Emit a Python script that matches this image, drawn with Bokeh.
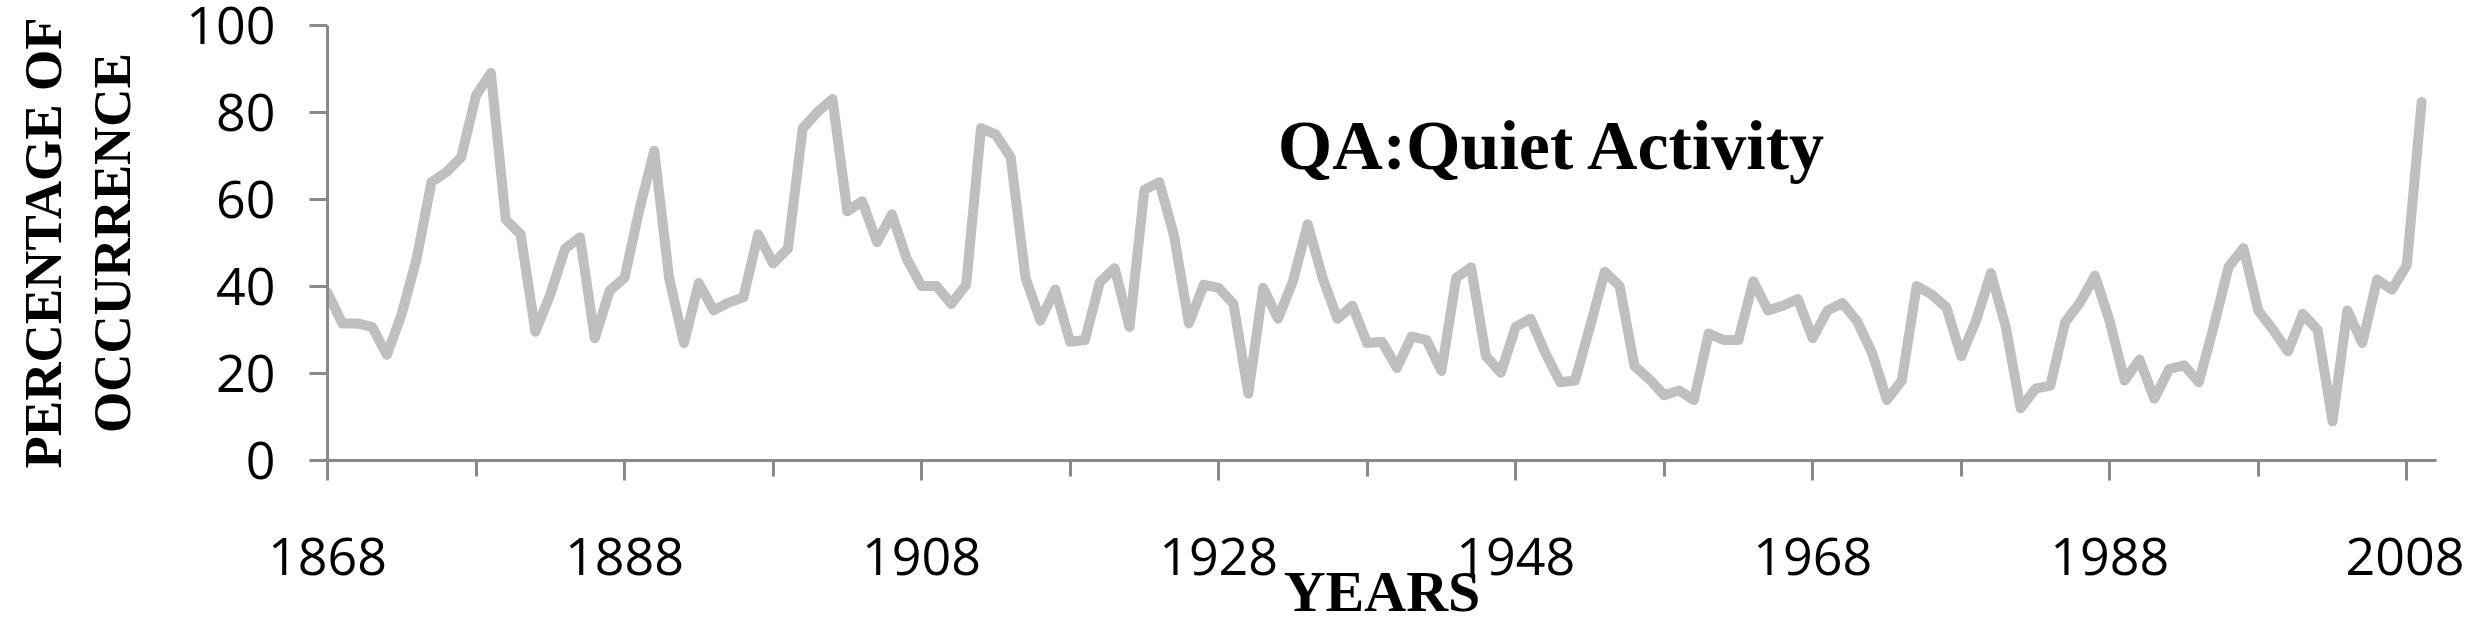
from bokeh.plotting import figure
from bokeh.models import FixedTicker, Label, Range1d
from bokeh.embed import file_html
from bokeh.resources import INLINE

# ---- data ----
start_year = 1868
qa_values = [
    38.6, 31.5, 31.5, 30.7, 24.3, 33.7, 46.4, 64.0, 66.3, 69.7,
    83.9, 89.1, 55.4, 52.0, 29.6, 38.2, 48.7, 51.3, 28.1, 39.0,
    42.0, 57.7, 71.2, 42.0, 27.0, 40.8, 34.5, 36.3, 37.5, 52.0,
    45.3, 48.7, 76.4, 80.1, 83.1, 57.3, 59.6, 50.2, 56.6, 46.4,
    40.1, 40.1, 36.0, 40.4, 76.4, 74.9, 69.7, 42.0, 32.2, 39.3,
    27.3, 27.7, 41.0, 44.2, 30.7, 62.2, 64.0, 51.7, 31.5, 40.4,
    39.7, 36.0, 15.4, 39.7, 32.6, 41.2, 54.3, 42.0, 32.6, 35.6,
    27.0, 27.3, 21.3, 28.5, 27.7, 20.6, 42.0, 44.4, 24.0, 20.2,
    30.7, 32.6, 24.7, 18.0, 18.4, 30.7, 43.4, 40.1, 21.7, 18.7,
    15.0, 16.1, 13.9, 29.2, 27.7, 27.7, 41.2, 34.5, 35.6, 37.1,
    28.1, 34.5, 36.2, 32.0, 24.7, 13.9, 18.4, 40.1, 38.2, 35.2,
    24.0, 32.2, 43.1, 30.7, 12.0, 16.5, 17.2, 31.8, 36.3, 42.5,
    32.0, 18.4, 23.2, 14.2, 21.0, 21.9, 18.0, 30.8, 44.5, 48.8,
    34.5, 30.0, 25.1, 33.7, 30.0, 9.0, 34.5, 27.0, 41.6, 39.3,
    44.9, 82.4,
]
years = [start_year + i for i in range(len(qa_values))]

x_major_ticks = [1868, 1888, 1908, 1928, 1948, 1968, 1988, 2008]
x_minor_ticks = [1878, 1898, 1918, 1938, 1958, 1978, 1998]
x_tick_labels = ["1868", "1888", "1908", "1928", "1948", "1968", "1988", "2008"]
y_ticks = [0, 20, 40, 60, 80, 100]
y_tick_labels = ["0", "20", "40", "60", "80", "100"]

title_text = "QA:Quiet Activity"
x_title = "YEARS"
y_title = "PERCENTAGE OF\nOCCURRENCE"

AXIS_COLOR = "#898989"
LINE_COLOR = "#BFBFBF"

p = figure(
    width=2464, height=626,
    output_backend="svg", toolbar_location=None,
    x_range=Range1d(1868, 2010), y_range=Range1d(0, 100),
    min_border_left=327, min_border_right=28,
    min_border_top=25, min_border_bottom=156,
)
p.outline_line_color = None
p.grid.visible = False
p.background_fill_color = "white"
p.border_fill_color = "white"

p.line(years, qa_values, line_color=LINE_COLOR, line_width=10,
       line_join="round", line_cap="round")

# x axis
xa = p.xaxis[0]
xa.ticker = FixedTicker(ticks=x_major_ticks, minor_ticks=x_minor_ticks)
xa.major_label_overrides = {t: l for t, l in zip(x_major_ticks, x_tick_labels)}
xa.axis_line_color = AXIS_COLOR
xa.axis_line_width = 3
xa.major_tick_line_color = AXIS_COLOR
xa.major_tick_line_width = 3
xa.minor_tick_line_color = AXIS_COLOR
xa.minor_tick_line_width = 3
xa.major_tick_in = 0
xa.major_tick_out = 20
xa.minor_tick_in = 0
xa.minor_tick_out = 16
xa.major_label_text_font = "Open Sans"
xa.major_label_text_font_size = "52px"
xa.major_label_text_color = "black"
xa.major_label_standoff = 57
xa.axis_label = x_title
xa.axis_label_text_font = "Liberation Serif"
xa.axis_label_text_font_style = "bold"
xa.axis_label_text_font_size = "58px"
xa.axis_label_text_color = "black"
xa.axis_label_standoff = -19

# y axis
ya = p.yaxis[0]
ya.ticker = FixedTicker(ticks=y_ticks, minor_ticks=[])
ya.major_label_overrides = {t: l for t, l in zip(y_ticks, y_tick_labels)}
ya.axis_line_color = AXIS_COLOR
ya.axis_line_width = 3
ya.major_tick_line_color = AXIS_COLOR
ya.major_tick_line_width = 3
ya.minor_tick_line_color = None
ya.major_tick_in = 0
ya.major_tick_out = 18
ya.major_label_text_font = "Open Sans"
ya.major_label_text_font_size = "52px"
ya.major_label_text_color = "black"
ya.major_label_standoff = 34
ya.axis_label = y_title
ya.axis_label_text_font = "Liberation Serif"
ya.axis_label_text_font_style = "bold"
ya.axis_label_text_font_size = "53px"
ya.axis_label_text_color = "black"
ya.axis_label_standoff = 42

p.add_layout(Label(x=1950.5, y=72.5, text=title_text, text_align="center",
                   text_baseline="alphabetic", text_font="Liberation Serif",
                   text_font_style="bold", text_font_size="70px",
                   text_color="black"))

open("out.html", "w").write(file_html(p, INLINE))
